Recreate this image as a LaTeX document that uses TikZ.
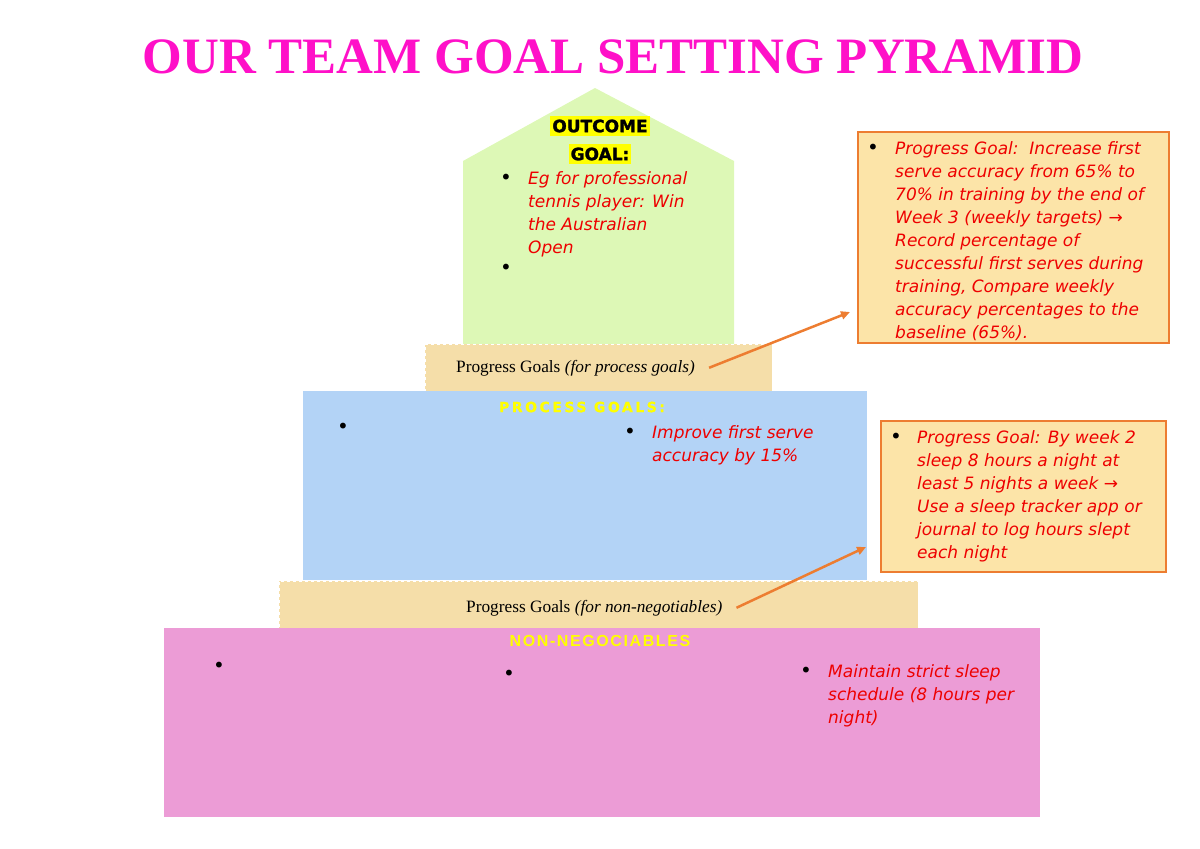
\documentclass[tikz,border=0pt]{standalone}
\usepackage{fontspec}
\setmainfont{Liberation Serif}
\newfontfamily\dvs{DejaVu Sans}
\newfontfamily\heavy[FakeBold=1.5]{DejaVu Sans Bold}
\newfontfamily\procfont[LetterSpace=18,FakeBold=1]{DejaVu Sans Bold}
\newfontfamily\nonfont[LetterSpace=10]{Liberation Sans}
\usetikzlibrary{arrows.meta}
\definecolor{titlemag}{HTML}{FF10C8}
\definecolor{outgreen}{HTML}{DDF8B6}
\definecolor{bartan}{HTML}{F5DEA9}
\definecolor{procblue}{HTML}{B3D3F6}
\definecolor{nonpink}{HTML}{EC9CD6}
\definecolor{boxfill}{HTML}{FCE4A8}
\definecolor{orng}{HTML}{ED7D31}
\definecolor{redtxt}{HTML}{EE0000}
\definecolor{hlyellow}{HTML}{FFFF00}
\newcommand{\firstl}{\rule{0pt}{17pt}}
\tikzset{
  layer/.style={anchor=north west, inner sep=0pt, outer sep=0pt},
  progbar/.style={layer, fill=bartan, draw=white, dashed, line width=0.8pt},
  goalbox/.style={layer, fill=boxfill, draw=orng, line width=2pt},
  redlist/.style={anchor=north west, inner sep=0pt, align=left, text=redtxt,
    font={\dvs\itshape\fontsize{17}{23}\selectfont}},
  bul/.style={anchor=base, inner sep=0pt, font={\dvs\fontsize{20}{22}\selectfont}},
  bartext/.style={anchor=base west, inner sep=0pt, font={\fontsize{17.3}{19}\selectfont}},
  hl/.style={fill=hlyellow, inner xsep=2pt, inner ysep=3.5pt, font={\heavy\fontsize{17}{19}\selectfont}},
  conn/.style={draw=orng, line width=2.5pt, -{Triangle[length=9pt,width=8pt]}}
}
\begin{document}
\begin{tikzpicture}[x=1pt,y=-1pt]
\useasboundingbox (0,0) rectangle (1200,849);
% title
\node[font={\bfseries\fontsize{51}{56}\selectfont}, text=titlemag, inner sep=0pt] (title) at (613,57) {OUR TEAM GOAL SETTING PYRAMID};
% outcome pentagon
\coordinate (o1) at (463,161);
\coordinate (o2) at (595,88);
\coordinate (o3) at (734,161);
\coordinate (o4) at (734,345);
\coordinate (o5) at (463,345);
\fill[outgreen] (o1) -- (o2) -- (o3) -- (o4) -- (o5) -- cycle;
% progress bar 1
\node[progbar, minimum width=347pt, minimum height=47pt] (bar1) at (425,344) {};
% process
\node[layer, fill=procblue, minimum width=564pt, minimum height=189pt] (proc) at (303,391) {};
% progress bar 2
\node[progbar, minimum width=639pt, minimum height=47pt] (bar2) at (279,581) {};
% non-negotiables
\node[layer, fill=nonpink, minimum width=876pt, minimum height=189pt] (nonneg) at (164,628) {};
% right boxes
\node[goalbox, minimum width=311pt, minimum height=211pt] (box1) at (858,132) {};
\node[goalbox, minimum width=285pt, minimum height=151pt] (box2) at (881,421) {};

% outcome labels
\node[hl] (outl1) at (600,126) {OUTCOME};
\node[hl] (outl2) at (600,154) {GOAL:};
\node[bul] (ob1) at (506,184) {•};
\node[redlist] (otext) at (528,167) {\firstl Eg for professional\\tennis player: Win\\the Australian\\Open};
\node[bul] (ob2) at (506,274) {•};

% bar texts
\node[bartext] (pg1) at (456,372) {Progress Goals \textit{(for process goals)}};
\node[bartext] (pg2) at (466,612) {Progress Goals \textit{(for non-negotiables)}};

% process labels
\node[text=hlyellow, font={\procfont\fontsize{14}{17}\selectfont}, inner sep=0pt] (procl) at (582,407) {PROCESS GOALS:};
\node[bul] (pb1) at (343,433) {•};
\node[bul] (pb2) at (630,438) {•};
\node[redlist] (ptext) at (652,421) {\firstl Improve first serve\\accuracy by 15\%};

% non-negotiables labels
\node[text=hlyellow, font={\nonfont\bfseries\fontsize{16}{18}\selectfont}, inner sep=0pt] (nonl) at (600,641) {NON-NEGOCIABLES};
\node[bul] (nb1) at (219,672) {•};
\node[bul] (nb2) at (509,680) {•};
\node[bul] (nb3) at (806,677) {•};
\node[redlist] (ntext) at (828,660) {\firstl Maintain strict sleep\\schedule (8 hours per\\night)};

% box texts
\node[bul] (b1b) at (873,154) {•};
\node[redlist] (b1text) at (895,137) {\firstl Progress Goal:\ \ Increase first\\serve accuracy from 65\% to\\70\% in training by the end of\\Week 3 (weekly targets) →\\Record percentage of\\successful first serves during\\training, Compare weekly\\accuracy percentages to the\\baseline (65\%).};
\node[bul] (b2b) at (896,443) {•};
\node[redlist] (b2text) at (917,426) {\firstl Progress Goal: By week 2\\sleep 8 hours a night at\\least 5 nights a week →\\Use a sleep tracker app or\\journal to log hours slept\\each night};

% connectors
\draw[conn] ([xshift=14pt]pg1.east) -- ([xshift=-8pt,yshift=31pt]box1.south west);
\draw[conn] ([xshift=14pt]pg2.east) -- ([xshift=-15pt,yshift=25pt]box2.south west);
\end{tikzpicture}
\end{document}
